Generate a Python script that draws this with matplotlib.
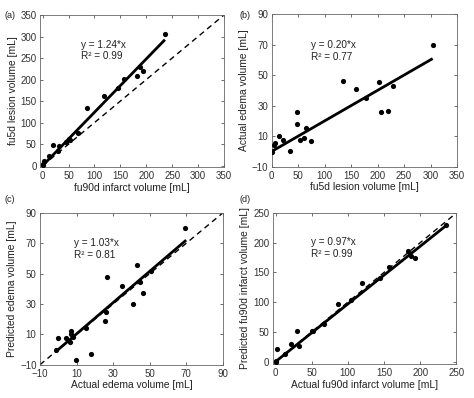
import matplotlib
matplotlib.use("Agg")
import matplotlib.pyplot as plt
import numpy as np

plt.rcParams['font.family'] = ['Liberation Sans', 'DejaVu Sans']

# ---- data ----
a_x = [0, 1, 2, 13, 21, 29, 32, 45, 50, 52, 68, 86, 119, 145, 158, 182, 188, 194, 236]
a_y = [4, 1, 12, 22, 48, 35, 46, 55, 63, 60, 75, 133, 161, 180, 202, 208, 230, 219, 306]

b_x = [1, 4, 7, 13, 21, 34, 48, 48, 53, 61, 64, 75, 135, 160, 179, 202, 206, 219, 230, 304]
b_y = [-0.3, 4.5, 5.7, 9.8, 7.6, 0.2, 25.8, 17.7, 7.5, 8.5, 15.2, 7.0, 45.9, 41.0, 35.0, 45.2, 26.0, 26.7, 42.6, 69.5]

c_x = [-1, 0, 4.4, 6.2, 7.2, 7.2, 8, 9.5, 15.4, 17.7, 25.8, 26.3, 26.9, 34.9, 41.1, 43.2, 44.8, 46.2, 51, 69.5]
c_y = [-0.3, 7.8, 7.4, 5.2, 12.2, 10.2, 8.5, -6.9, 14.4, -3.2, 18.8, 24.5, 47.6, 41.8, 30, 55.9, 44.7, 37, 52, 80.3]

d_x = [0, 0.5, 2, 13, 21, 29, 33, 50, 52, 67, 87, 104, 120, 145, 157, 183, 188, 193, 236]
d_y = [0, 1, 21, 12, 30, 51, 27, 51, 52, 64, 97, 103, 132, 140, 159, 186, 177, 174, 229]

slopes = [1.24, 0.20, 1.03, 0.97]
fit_ranges = [(0, 236), (0, 304), (-1, 70), (0, 236)]
identity_ranges = [(0, 350), None, (-10, 90), (0, 250)]
eq_texts = ["y = 1.24*x", "y = 0.20*x", "y = 1.03*x", "y = 0.97*x"]
r2_texts = ["R² = 0.99", "R² = 0.77", "R² = 0.81", "R² = 0.99"]
xlabels = ["fu90d infarct volume [mL]", "fu5d lesion volume [mL]",
           "Actual edema volume [mL]", "Actual fu90d infarct volume [mL]"]
ylabels = ["fu5d lesion volume [mL]", "Actual edema volume [mL]",
           "Predicted edema volume [mL]", "Predicted fu90d infarct volume [mL]"]
panel_tags = ["(a)", "(b)", "(c)", "(d)"]
xticks = [np.arange(0, 351, 50), np.arange(0, 351, 50), np.arange(-10, 91, 20), np.arange(0, 251, 50)]
yticks = [np.arange(0, 351, 50), np.arange(-10, 91, 20), np.arange(-10, 91, 20), np.arange(0, 251, 50)]
xlims = [(-5, 350), (0, 350), (-10, 90), (-4, 250)]
ylims = [(-3, 350), (-10, 90), (-10, 90), (-4, 250)]
eq_pos = [(74, 281, 255), (74, 69.7, 61.8), (8.6, 70, 62.3), (49, 202, 181)]

xs = [a_x, b_x, c_x, d_x]
ys = [a_y, b_y, c_y, d_y]

W, H = 474, 398
fig = plt.figure(figsize=(W / 100, H / 100), dpi=100)
boxes = [(40, 224, 15, 167), (271.7, 457, 14, 166.7), (40, 222.7, 213, 364.7), (272.7, 456.3, 213, 364)]
tag_pos = [(10, 15), (245, 15), (10, 200), (245, 200)]

for i in range(4):
    x0, x1, y0, y1 = boxes[i]
    ax = fig.add_axes([x0 / W, 1 - y1 / H, (x1 - x0) / W, (y1 - y0) / H])
    ax.scatter(xs[i], ys[i], s=14, color='black', zorder=3, linewidths=0)
    fx = np.array(fit_ranges[i])
    ax.plot(fx, slopes[i] * fx, color='black', lw=2.0, zorder=4, solid_capstyle='butt')
    if identity_ranges[i] is not None:
        ix = np.array(identity_ranges[i])
        ax.plot(ix, ix, color='black', lw=1.0, ls=(0, (4, 3)), zorder=2)
    ax.set_xlim(*xlims[i])
    ax.set_ylim(*ylims[i])
    ax.set_xticks(xticks[i])
    ax.set_yticks(yticks[i])
    ax.tick_params(direction='in', length=2.5, width=0.5, labelsize=7, top=True, right=True,
                   colors='#333333')
    ax.tick_params(axis='x', pad=3)
    ax.tick_params(axis='y', pad=2.5)
    for sp in ax.spines.values():
        sp.set_linewidth(0.6)
        sp.set_color('#666666')
    ax.set_xlabel(xlabels[i], fontsize=7.4, color='#222222', labelpad=1)
    ax.set_ylabel(ylabels[i], fontsize=7.4, color='#222222', labelpad=2)
    ex, ey1, ey2 = eq_pos[i]
    ax.text(ex, ey1, eq_texts[i], fontsize=7.2, ha='left', va='center', color='#222222')
    ax.text(ex, ey2, r2_texts[i], fontsize=7.2, ha='left', va='center', color='#222222')
    fig.text(tag_pos[i][0] / W, 1 - tag_pos[i][1] / H, panel_tags[i], fontsize=6.5,
             ha='center', va='center', color='#222222')

fig.savefig("out.png", dpi=100)
